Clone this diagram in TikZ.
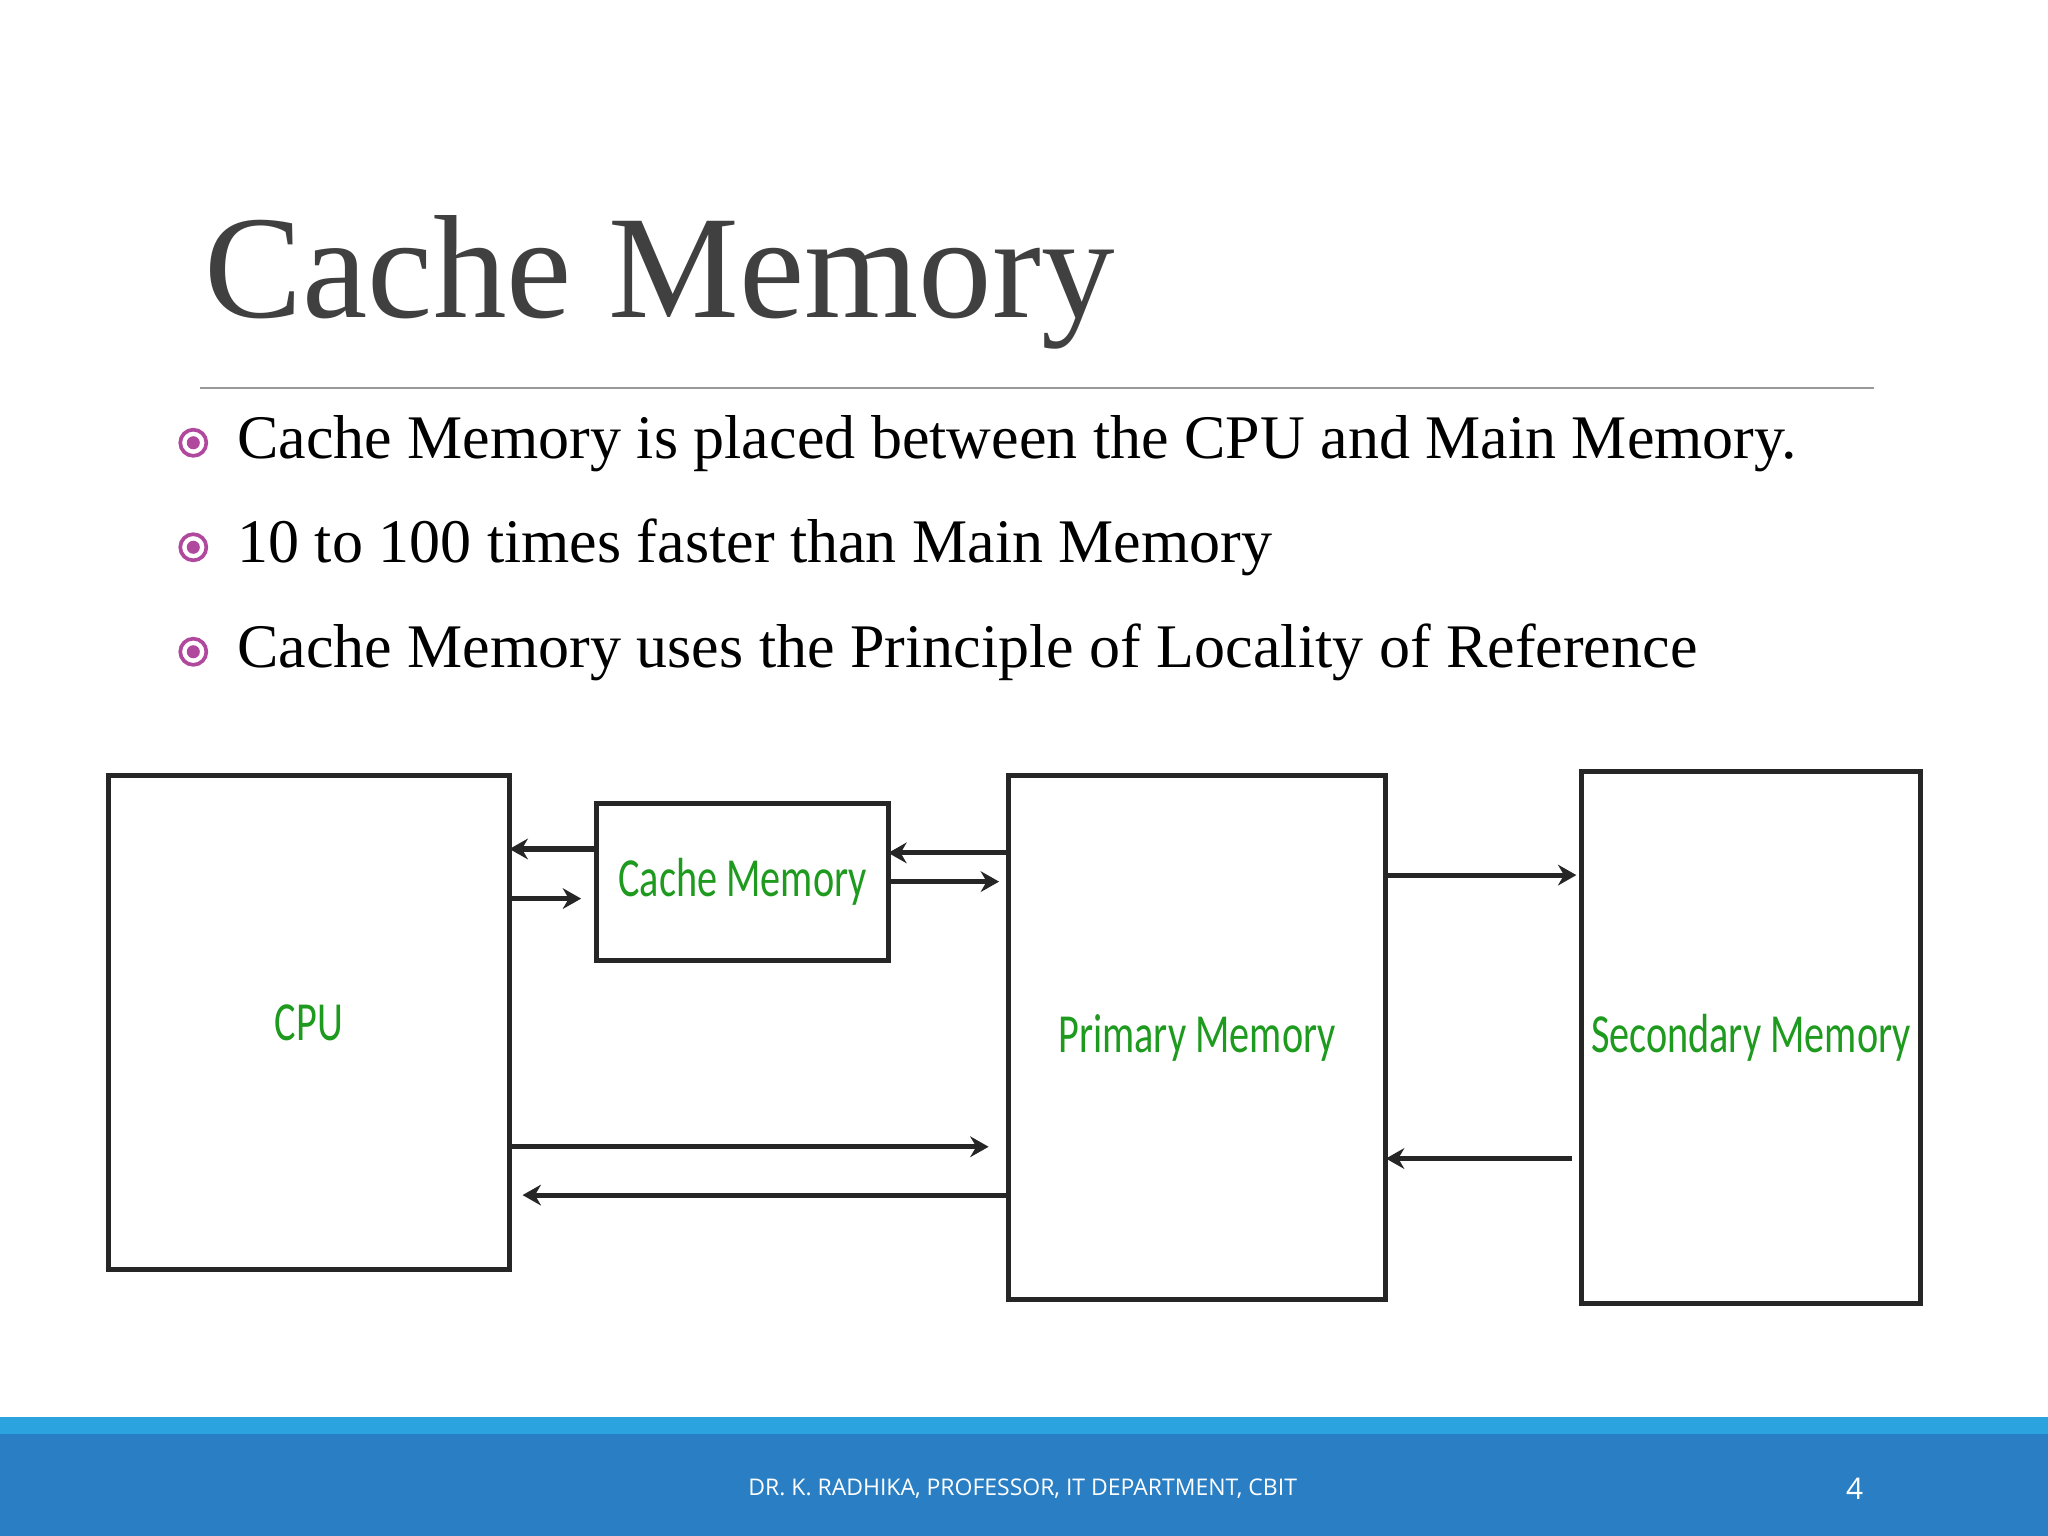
\documentclass[tikz,border=0pt]{standalone}
\usepackage{fontspec}
\setmainfont{Liberation Serif}
\newfontfamily\boxfont[FakeStretch=0.73]{Carlito}
\newfontfamily\footfont{Open Sans}
\usetikzlibrary{arrows.meta}
\definecolor{titlegrey}{HTML}{404040}
\definecolor{bulletmag}{HTML}{B0489E}
\definecolor{boxgreen}{HTML}{1E9A1E}
\definecolor{footlight}{HTML}{2AA3DF}
\definecolor{footdark}{HTML}{2A7FC4}
\tikzset{
  box/.style={draw=black!85, line width=1.1pt, inner sep=0pt, outer sep=0pt, font=\boxfont\fontsize{12}{14}\selectfont, text=boxgreen},
  conn/.style={line width=1.1pt, draw=black!85, -{Stealth[length=4pt,width=4.5pt]}},
  bullet/.style={circle, draw=bulletmag, line width=0.8pt, minimum size=0.2cm, inner sep=0pt,
    path picture={\fill[bulletmag] (path picture bounding box.center) circle (0.05cm);}},
  btext/.style={anchor=base west, inner sep=0pt, font=\fontsize{13.5}{16}\selectfont}
}
\begin{document}
\begin{tikzpicture}[x=0.01cm,y=-0.01cm]
\useasboundingbox (0,0) rectangle (1568,1176);
\fill[white] (0,0) rectangle (1568,1176);
\node[anchor=base west, inner sep=0pt, text=titlegrey, font=\fontsize{32}{36}\selectfont] (title) at (156,243) {Cache Memory};
\draw[black!40, line width=0.5pt] (153,297) -- (1435,297);
\node[bullet] (b1) at (148,339) {};
\node[bullet] (b2) at (148,419) {};
\node[bullet] (b3) at (148,499) {};
\node[btext] (t1) at (181,351) {Cache Memory is placed between the CPU and Main Memory.};
\node[btext] (t2) at (181,431) {10 to 100 times faster than Main Memory};
\node[btext] (t3) at (181,511) {Cache Memory uses the Principle of Locality of Reference};
\node[box, minimum width=3.07cm, minimum height=3.78cm] (cpu) at (236.5,783) {CPU};
\node[box, minimum width=2.23cm, minimum height=1.20cm] (cache) at (568.5,675) {Cache Memory};
\node[box, minimum width=2.89cm, minimum height=4.01cm] (prim) at (916.5,794.5) {Primary Memory};
\node[box, minimum width=2.59cm, minimum height=4.07cm] (sec) at (1340.5,794.5) {Secondary Memory};
\draw[conn] (cache.west |- 0,650) -- (cpu.east |- 0,650);
\draw[conn] (cpu.east |- 0,688) -- ([xshift=-0.12cm]cache.west |- 0,688);
\draw[conn] (prim.west |- 0,653) -- (cache.east |- 0,653);
\draw[conn] (cache.east |- 0,675) -- ([xshift=-0.07cm]prim.west |- 0,675);
\draw[conn] (cpu.east |- 0,878) -- ([xshift=-0.15cm]prim.west |- 0,878);
\draw[conn] (prim.west |- 0,915) -- ([xshift=0.1cm]cpu.east |- 0,915);
\draw[conn] (prim.east |- 0,670) -- ([xshift=-0.04cm]sec.west |- 0,670);
\draw[conn] ([xshift=-0.07cm]sec.west |- 0,887) -- (prim.east |- 0,887);
\fill[footlight] (0,1085) rectangle (1568,1098);
\fill[footdark] (0,1098) rectangle (1568,1176);
\node[text=white, font=\footfont\fontsize{5}{6}\selectfont] (foot) at (783,1140) {DR. K. RADHIKA, PROFESSOR, IT DEPARTMENT, CBIT};
\node[text=white, font=\footfont\fontsize{6.5}{8}\selectfont] (pg) at (1420,1140) {4};
\end{tikzpicture}
\end{document}
